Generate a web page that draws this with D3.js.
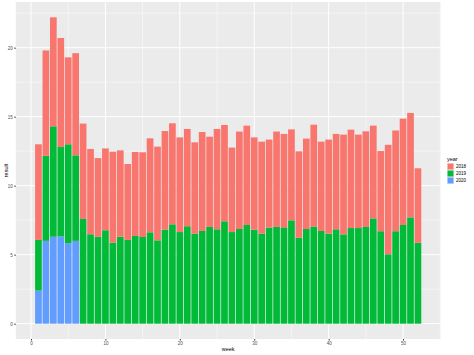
<!DOCTYPE html>
<html>
<head>
<meta charset="utf-8">
<script src="https://cdn.jsdelivr.net/npm/d3@7"></script>
<style>
  body { margin: 0; background: #fff; }
  svg { display: block; font-family: "Liberation Sans", Arial, sans-serif; }
</style>
</head>
<body>
<div class="chart"></div>
<script>

// weekly results per year
var weeks = d3.range(1, 53);

var years = ["2018", "2019", "2020"];

var result2018 = [6.93, 7.63, 7.90, 7.90, 6.30, 7.40, 6.91, 6.18, 5.70, 5.93,
                  6.59, 6.26, 5.50, 6.08, 6.14, 6.81, 6.79, 7.15, 7.32, 6.86,
                  7.05, 6.62, 7.17, 6.54, 7.27, 6.98, 6.12, 7.06, 7.20, 6.69,
                  6.67, 6.38, 6.91, 6.77, 6.59, 6.26, 6.55, 7.38, 6.47, 6.82,
                  6.91, 7.23, 7.13, 6.77, 6.93, 6.72, 5.81, 7.93, 7.30, 7.71,
                  7.57, 5.40];

var result2019 = [3.67, 6.17, 8.00, 6.47, 7.17, 6.20, 7.59, 6.48, 6.30, 6.77,
                  5.87, 6.30, 6.07, 6.36, 6.28, 6.62, 6.04, 6.81, 7.20, 6.64,
                  7.06, 6.52, 6.72, 7.01, 6.84, 7.42, 6.64, 6.86, 7.15, 6.81,
                  6.52, 6.96, 7.01, 6.98, 7.49, 6.23, 6.86, 7.04, 6.72, 6.52,
                  6.84, 6.47, 6.93, 6.93, 7.01, 7.63, 6.70, 5.03, 6.70, 7.15,
                  7.70, 5.86];

// 2020 only has the first six weeks
var result2020 = [2.40, 6.00, 6.30, 6.33, 5.83, 6.00];

var yearColors = ["#F8766D", "#00BA38", "#619CFF"];

var xBreaks = [0, 10, 20, 30, 40, 50];
var yBreaks = [0, 5, 10, 15, 20];

/* ********* build stacked table ********* */

var table = weeks.map(function(w, i) {
	return {
		week: w,
		"2018": result2018[i],
		"2019": result2019[i],
		"2020": i < result2020.length ? result2020[i] : 0
	};
});

// ggplot stacks the first level on top, so stack in reverse order
var stacked = d3.stack().keys(years.slice().reverse())(table);

var totalMax = d3.max(table, d => d["2018"] + d["2019"] + d["2020"]);

/* ********* dimensions ********* */

var W = 474, H = 355;
var panel = {left: 15.8, right: 440.6, top: 2, bottom: 339};

var svg = d3.select(".chart")
	.append("svg")
	.attr("width", W)
	.attr("height", H);

var barWidth = 0.9;
var xlo = weeks[0] - barWidth / 2, xhi = weeks[weeks.length - 1] + barWidth / 2;
var xpad = (xhi - xlo) * 0.05;

var x = d3.scaleLinear()
	.domain([xlo - xpad, xhi + xpad])
	.range([panel.left, panel.right]);

var ypad = totalMax * 0.05;
var y = d3.scaleLinear()
	.domain([-ypad, totalMax + ypad])
	.range([panel.bottom, panel.top]);

// panel background
svg.append("rect")
	.attr("x", panel.left)
	.attr("y", panel.top)
	.attr("width", panel.right - panel.left)
	.attr("height", panel.bottom - panel.top)
	.attr("fill", "#EBEBEB");

/* grid */
var grid = svg.append("g").attr("stroke", "#fff");

var xMinor = [5, 15, 25, 35, 45, 55];
var yMinor = [2.5, 7.5, 12.5, 17.5, 22.5];

grid.selectAll("line.xminor")
	.data(xMinor)
	.join("line")
	.attr("class", "xminor")
	.attr("x1", d => x(d)).attr("x2", d => x(d))
	.attr("y1", panel.top).attr("y2", panel.bottom)
	.attr("stroke-width", 0.5);

grid.selectAll("line.yminor")
	.data(yMinor.filter(d => y(d) > panel.top))
	.join("line")
	.attr("class", "yminor")
	.attr("y1", d => y(d)).attr("y2", d => y(d))
	.attr("x1", panel.left).attr("x2", panel.right)
	.attr("stroke-width", 0.5);

grid.selectAll("line.xmajor")
	.data(xBreaks)
	.join("line")
	.attr("class", "xmajor")
	.attr("x1", d => x(d)).attr("x2", d => x(d))
	.attr("y1", panel.top).attr("y2", panel.bottom)
	.attr("stroke-width", 1);

grid.selectAll("line.ymajor")
	.data(yBreaks)
	.join("line")
	.attr("class", "ymajor")
	.attr("y1", d => y(d)).attr("y2", d => y(d))
	.attr("x1", panel.left).attr("x2", panel.right)
	.attr("stroke-width", 1);

/* bars */
svg.append("g")
	.selectAll("g")
	.data(stacked)
	.join("g")
	.attr("fill", d => yearColors[years.indexOf(d.key)])
	.selectAll("rect")
	.data(d => d.filter(s => s[1] > s[0]))
	.join("rect")
	.attr("x", d => x(d.data.week - barWidth / 2))
	.attr("width", d => x(barWidth) - x(0))
	.attr("y", d => y(d[1]))
	.attr("height", d => y(d[0]) - y(d[1]));

/* axes */
var axisColor = "#4D4D4D";

var xAxis = svg.append("g")
	.attr("transform", "translate(0," + panel.bottom + ")")
	.call(d3.axisBottom(x).tickValues(xBreaks).tickSize(1.5).tickPadding(1.5).tickSizeOuter(0));

var yAxis = svg.append("g")
	.attr("transform", "translate(" + panel.left + ",0)")
	.call(d3.axisLeft(y).tickValues(yBreaks).tickSize(1.5).tickPadding(1.5).tickSizeOuter(0));

[xAxis, yAxis].forEach(function(a) {
	a.select(".domain").remove();
	a.selectAll("line").attr("stroke", "#333");
	a.selectAll("text")
		.attr("fill", axisColor)
		.style("font-size", "4.5px")
		.style("font-family", "Liberation Sans, Arial, sans-serif");
});

// axis titles
svg.append("text")
	.attr("x", (panel.left + panel.right) / 2)
	.attr("y", 351)
	.attr("text-anchor", "middle")
	.style("font-size", "5.5px")
	.text("week");

svg.append("text")
	.attr("transform", "translate(8," + ((panel.top + panel.bottom) / 2) + ") rotate(-90)")
	.attr("text-anchor", "middle")
	.style("font-size", "5.5px")
	.text("result");

/* legend */
var legend = svg.append("g")
	.attr("transform", "translate(447,158)");

legend.append("text")
	.attr("x", 0)
	.attr("y", 3)
	.style("font-size", "5.5px")
	.text("year");

var keys = legend.selectAll("g.key")
	.data(years)
	.join("g")
	.attr("class", "key")
	.attr("transform", (d, i) => "translate(0," + (5 + i * 7) + ")");

keys.append("rect")
	.attr("width", 7)
	.attr("height", 7)
	.attr("fill", "#F2F2F2");

keys.append("rect")
	.attr("x", 0.5).attr("y", 0.5)
	.attr("width", 6)
	.attr("height", 6)
	.attr("fill", (d, i) => yearColors[i]);

keys.append("text")
	.attr("x", 9)
	.attr("y", 5)
	.style("font-size", "4.5px")
	.attr("fill", "#000")
	.text(d => d);

</script>
</body>
</html>
